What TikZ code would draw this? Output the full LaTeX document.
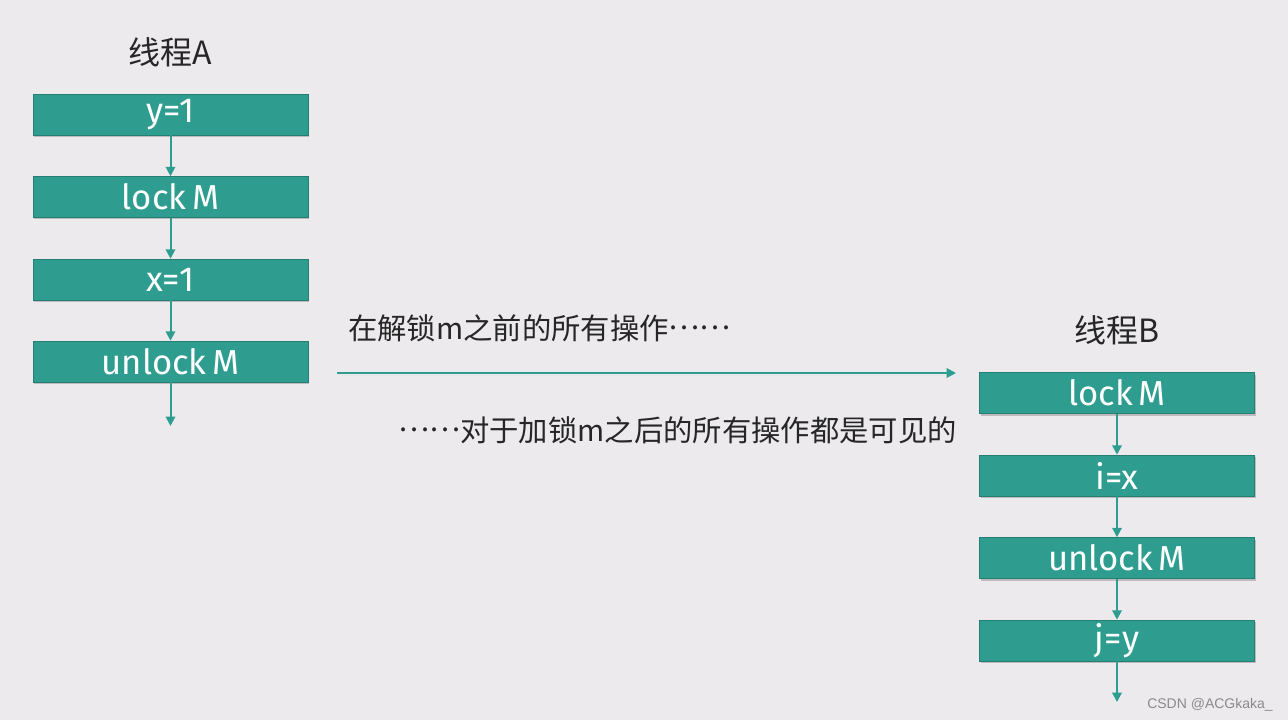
\documentclass[tikz,border=0pt]{standalone}
\usepackage{fontspec}
\setmainfont{Fira Sans}
\newfontfamily\cjk{Noto Sans CJK SC}
\newfontfamily\wm{Liberation Sans}
\usetikzlibrary{arrows.meta,shadows}
\definecolor{bg}{HTML}{ECEAED}
\definecolor{teal}{HTML}{2E9D8F}
\definecolor{wmgray}{HTML}{8A8A8A}
\newcommand{\middots}{\raisebox{0.32em}{……}}
\tikzset{
  opbox/.style={fill=teal, draw=teal!80!black, line width=0.4pt, minimum width=206.25pt, minimum height=30.75pt,
    inner sep=0pt, text=white, font=\fontsize{26}{26}\selectfont,
    drop shadow={opacity=0.35, shadow xshift=1pt, shadow yshift=-1.5pt, fill=black!60}},
  flow/.style={draw=teal, line width=1.5pt, -{Triangle[length=7pt,width=7pt]}},
  title/.style={font=\cjk\fontsize{24}{24}\selectfont, text=black!85},
  note/.style={font=\cjk\fontsize{22}{22}\selectfont, text=black!85, inner sep=0pt}
}
\begin{document}
\begin{tikzpicture}[x=0.75pt,y=-0.75pt]
\fill[bg] (0,0) rectangle (1288,720);
\useasboundingbox (0,0) rectangle (1288,720);
% Thread A
\node[title] (ta) at (170,52) {线程A};
\node[opbox] (a1) at (170.5,114.5) {y=1};
\node[opbox] (a2) at (170.5,197) {lock\,M};
\node[opbox] (a3) at (170.5,279.5) {x=1};
\node[opbox] (a4) at (170.5,361.5) {unlock\,M};
\coordinate (aend) at (170.5,426);
\draw[flow] (a1) -- (a2);
\draw[flow] (a2) -- (a3);
\draw[flow] (a3) -- (a4);
\draw[flow] (a4) -- (aend);
% Thread B
\node[title] (tb) at (1117,330) {线程B};
\node[opbox] (b1) at (1117,393) {lock\,M};
\node[opbox] (b2) at (1117,475.5) {i=x};
\node[opbox] (b3) at (1117,558) {unlock\,M};
\node[opbox] (b4) at (1117,640.5) {j=y};
\coordinate (bend) at (1117,702);
\draw[flow] (b1) -- (b2);
\draw[flow] (b2) -- (b3);
\draw[flow] (b3) -- (b4);
\draw[flow] (b4) -- (bend);
% Horizontal arrow
\coordinate (hs) at (337,373);
\coordinate (he) at (956,373);
\draw[flow, drop shadow={opacity=0.25, shadow xshift=0pt, shadow yshift=-1.5pt}] (hs) -- (he);
\node[note, anchor=west] (n1) at (348,328) {在解锁m之前的所有操作\middots};
\node[note, anchor=east] (n2) at (957,430) {\middots 对于加锁m之后的所有操作都是可见的};
% watermark
\node[anchor=east, inner sep=0pt, text=wmgray, font=\wm\fontsize{10.5}{10.5}\selectfont] (wm) at (1273,705) {CSDN @ACGkaka\_};
\end{tikzpicture}
\end{document}
